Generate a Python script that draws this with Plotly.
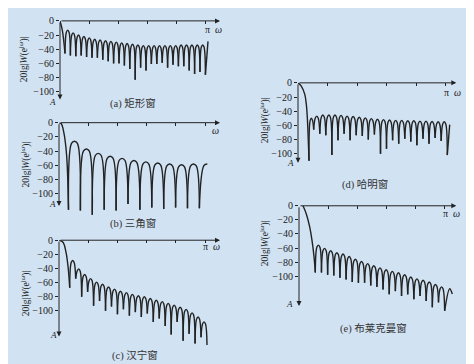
import plotly.graph_objects as go

W, H = 474, 364
FONT = "Liberation Serif, Noto Sans CJK SC, serif"
INK = "#222222"
BG = "#d1e2f3"

# ---------------- data (x in units of pi, y in dB) ----------------
# (a) rectangular window
main_a_x = [0.0, 0.0159]
main_a_db = [0, -13]
nulls_a_x = [0.0345, 0.0717, 0.1090, 0.1462, 0.1834, 0.2207, 0.2579, 0.2952, 0.3324,
             0.3697, 0.4069, 0.4441, 0.4814, 0.5186, 0.5559, 0.5931, 0.6303, 0.6676,
             0.7048, 0.7421, 0.7793, 0.8166, 0.8538, 0.8910, 0.9283, 0.9655, 1.0028]
nulls_a_db = [-46, -49, -50, -49, -51, -52, -52, -55, -57, -60, -60, -63, -68, -83,
              -66, -70, -61, -61, -59, -66, -62, -64, -64, -70, -75, -72, -76]
peaks_a_db = [-13, -17, -20, -22, -24, -26, -27, -28, -29, -30, -31, -32, -33, -34,
              -35, -35, -35, -35, -35, -35, -35, -34, -34, -34, -34, -34]
end_a_x = [1.0207]
end_a_db = [-29]

# (b) triangular window
main_b_x = [0.0, 0.0158, 0.0342, 0.0480, 0.0568]
main_b_db = [0, -1.6, -15, -36, -62]
nulls_b_x = [0.0651, 0.1466, 0.2281, 0.3096, 0.3911, 0.4726, 0.5541, 0.6356, 0.7171,
             0.7986, 0.8801, 0.9616]
nulls_b_db = [-122, -123, -129, -122, -123, -114, -122, -119, -121, -119, -120, -120]
peaks_b_db = [-26, -37, -43, -47, -50, -53, -55, -56.5, -58, -59, -58]
end_b_x = [0.9930, 1.0160]
end_b_db = [-60, -58]

# (c) Hanning window
main_c_x = [0.0, 0.0274, 0.0479, 0.0630]
main_c_db = [0, -3, -17, -40]
nulls_c_x = [0.0733, 0.1142, 0.1551, 0.1960, 0.2368, 0.2777, 0.3186, 0.3595, 0.4004,
             0.4413, 0.4822, 0.5231, 0.5640, 0.6049, 0.6458, 0.6866, 0.7275, 0.7684,
             0.8093, 0.8502, 0.8911, 0.9320, 0.9729, 1.0138]
nulls_c_db = [-68, -55, -81, -74, -94, -87, -101, -95, -106, -99, -108, -103, -110,
              -105, -117, -112, -123, -135, -117, -144, -134, -148, -139, -150]
peaks_c_db = [-29, -41, -49, -55, -60, -63, -67, -70, -73, -75, -77.5, -79.5, -81,
              -83.5, -86, -88, -90.5, -93, -96, -99, -104, -110, -117]
end_c_x = []
end_c_db = []

# (d) Hamming window
main_d_x = [0.0, 0.0223, 0.0454, 0.0562, 0.0630]
main_d_db = [0, -4.6, -16, -30, -49]
nulls_d_x = [0.0745, 0.1063, 0.1476, 0.1882, 0.2295, 0.2708, 0.3121, 0.3527, 0.3940,
             0.4353, 0.4760, 0.5173, 0.5586, 0.5992, 0.6405, 0.6818, 0.7231, 0.7637,
             0.8050, 0.8463, 0.8870, 0.9283, 0.9695, 1.0108]
nulls_d_db = [-110, -66, -72, -74, -102, -81, -72, -81, -74, -75, -80, -73, -100, -93,
              -81, -86, -79, -83, -88, -79, -86, -78, -82, -102]
peaks_d_db = [-50, -47, -45.5, -45.5, -45.5, -46, -47, -47.5, -48.5, -49.5, -50.5,
              -51.5, -52, -52.5, -53, -53, -53.5, -53.5, -54, -54, -54.5, -55, -55]
end_d_x = [1.0271]
end_d_db = [-59]

# (e) Blackman window
main_e_x = [0.0275, 0.0501, 0.0734, 0.0892, 0.1030]
main_e_db = [0, -11.6, -30, -49, -72]
nulls_e_x = [0.1119, 0.1542, 0.1964, 0.2387, 0.2810, 0.3233, 0.3655, 0.4078, 0.4501,
             0.4924, 0.5347, 0.5769, 0.6192, 0.6615, 0.7038, 0.7461, 0.7883, 0.8306,
             0.8729, 0.9152, 0.9575, 0.9997]
nulls_e_db = [-94.5, -94.5, -97.7, -99, -102, -104.6, -108, -109, -109, -113, -115,
              -118.6, -125.6, -121, -128, -125.6, -132.6, -128, -135, -144, -137, -149]
peaks_e_db = [-55.8, -60.4, -63.7, -66.5, -68.4, -72, -75.8, -79, -82, -85, -88, -90.7,
              -93, -95, -97.7, -101, -103.6, -105.6, -108, -111.6, -115]
end_e_x = [1.0343, 1.0522]
end_e_db = [-117.6, -125]

# read from the lobes: level halfway between a null and the crest, below the crest (dB)
crest_drop_db = 3

ytick_vals = [0, -20, -40, -60, -80, -100]
ytick_text = ["0", "−20", "−40", "−60", "−80", "−100"]
xtick_vals = [0.2, 0.4, 0.6, 0.8, 1.0]

captions = ["(a) 矩形窗", "(b) 三角窗", "(c) 汉宁窗", "(d) 哈明窗", "(e) 布莱克曼窗"]
ylabel = "20lg|<i>W</i>(e<sup>j<i>ω</i></sup>)|"


def build(main_x, main_db, nx, ndb, pdb, end_x, end_db):
    xs = list(main_x) + [nx[0], None]
    ys = list(main_db) + [ndb[0], None]
    for k in range(len(pdb)):
        a, b = nx[k], nx[k + 1]
        w = b - a
        xs += [a, a + 0.25 * w, a + 0.5 * w, a + 0.75 * w, b, None]
        ys += [ndb[k], pdb[k] - crest_drop_db, pdb[k], pdb[k] - crest_drop_db, ndb[k + 1], None]
    if end_x:
        xs += [nx[-1]] + list(end_x)
        ys += [ndb[-1]] + list(end_db)
    return xs, ys


def px(x):
    return x / W


def py(y):
    return 1 - y / H


panels = [
    dict(data=(main_a_x, main_a_db, nulls_a_x, nulls_a_db, peaks_a_db, end_a_x, end_a_db),
         x0=52, x1=212, pipx=145, y0=7, s=0.72, ymin=-113, yarrow=-111,
         title=(15, 46), A=(44, 89), om=(205, 16), omtext="π&nbsp;&nbsp;<i>ω</i>", cap=(125, 91)),
    dict(data=(main_b_x, main_b_db, nulls_b_x, nulls_b_db, peaks_b_db, end_b_x, end_b_db),
         x0=51, x1=212, pipx=146, y0=110.5, s=0.725, ymin=-130, yarrow=-117,
         title=(17, 153), A=(44, 193), om=(207, 118), omtext="<i>ω</i>", cap=(125, 213)),
    dict(data=(main_c_x, main_c_db, nulls_c_x, nulls_c_db, peaks_c_db, end_c_x, end_c_db),
         x0=51, x1=212, pipx=146, y0=230, s=0.71, ymin=-152, yarrow=-138,
         title=(17, 284), A=(45, 326), om=(203, 236), omtext="π&nbsp;&nbsp;<i>ω</i>", cap=(127, 347)),
    dict(data=(main_d_x, main_d_db, nulls_d_x, nulls_d_db, peaks_d_db, end_d_x, end_d_db),
         x0=290, x1=448.3, pipx=147.7, y0=70, s=0.72, ymin=-115, yarrow=-113,
         title=(256, 108), A=(282, 152), om=(444, 80), omtext="π&nbsp;&nbsp;<i>ω</i>", cap=(357, 173)),
    dict(data=(main_e_x, main_e_db, nulls_e_x, nulls_e_db, peaks_e_db, end_e_x, end_e_db),
         x0=291, x1=448.3, pipx=145.7, y0=195, s=0.717, ymin=-152, yarrow=-142,
         title=(256, 233), A=(281, 295), om=(443, 203), omtext="π&nbsp;&nbsp;<i>ω</i>", cap=(365, 320)),
]

fig = go.Figure()
annotations = []
layout_axes = {}

for i, p in enumerate(panels):
    n = i + 1
    xa = "x" if n == 1 else f"x{n}"
    ya = "y" if n == 1 else f"y{n}"
    xs, ys = build(*p["data"])
    fig.add_trace(go.Scatter(x=xs, y=ys, mode="lines", xaxis=xa, yaxis=ya,
                             line=dict(color=INK, width=1.4, shape="spline", smoothing=1.0),
                             connectgaps=False, hoverinfo="skip", showlegend=False))
    xmax = (p["x1"] - p["x0"]) / p["pipx"]
    ybot = p["y0"] + (-p["ymin"]) * p["s"]
    layout_axes["xaxis" if n == 1 else f"xaxis{n}"] = dict(
        domain=[px(p["x0"]), px(p["x1"])], range=[0, xmax], side="top", anchor=ya,
        tickvals=xtick_vals, ticks="inside", ticklen=3, tickwidth=1, tickcolor=INK,
        showticklabels=False, showgrid=False, zeroline=False, showline=False, fixedrange=True)
    layout_axes["yaxis" if n == 1 else f"yaxis{n}"] = dict(
        domain=[py(ybot), py(p["y0"])], range=[p["ymin"], 0], anchor=xa,
        tickvals=ytick_vals, ticktext=ytick_text, ticks="outside", ticklen=3, tickwidth=1,
        tickcolor=INK, tickfont=dict(family=FONT, size=10, color=INK),
        showgrid=False, zeroline=False, showline=False, fixedrange=True)
    annotations.append(dict(x=xmax, y=0, ax=0, ay=0, xref=xa, yref=ya, axref=xa, ayref=ya,
                            text="", showarrow=True, arrowhead=2, arrowsize=1, arrowwidth=1,
                            arrowcolor=INK))
    annotations.append(dict(x=0, y=p["yarrow"], ax=0, ay=0, xref=xa, yref=ya, axref=xa, ayref=ya,
                            text="", showarrow=True, arrowhead=2, arrowsize=1, arrowwidth=1,
                            arrowcolor=INK))
    tx, ty = p["title"]
    annotations.append(dict(x=px(tx), y=py(ty), xref="paper", yref="paper", text=ylabel,
                            textangle=-90, showarrow=False, xanchor="center", yanchor="middle",
                            font=dict(family=FONT, size=9.5, color=INK)))
    ax_, ay_ = p["A"]
    annotations.append(dict(x=px(ax_), y=py(ay_), xref="paper", yref="paper", text="<i>A</i>",
                            showarrow=False, xanchor="center", yanchor="middle",
                            font=dict(family=FONT, size=9, color=INK)))
    ox, oy = p["om"]
    annotations.append(dict(x=px(ox), y=py(oy), xref="paper", yref="paper", text=p["omtext"],
                            showarrow=False, xanchor="center", yanchor="middle",
                            font=dict(family=FONT, size=10, color=INK)))
    cx, cy = p["cap"]
    annotations.append(dict(x=px(cx), y=py(cy), xref="paper", yref="paper", text=captions[i],
                            showarrow=False, xanchor="center", yanchor="middle",
                            font=dict(family=FONT, size=10.5, color="#333333")))

fig.update_layout(width=W, height=H, autosize=False, margin=dict(l=0, r=0, t=0, b=0),
                  paper_bgcolor=BG, plot_bgcolor="rgba(0,0,0,0)",
                  annotations=annotations, showlegend=False, **layout_axes)

fig.write_html("out.html", config={"displayModeBar": False})
